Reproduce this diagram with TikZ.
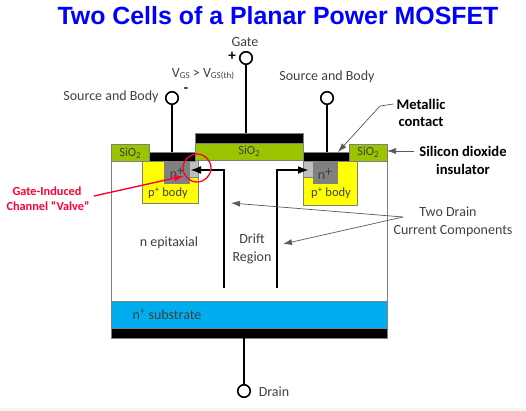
\documentclass[tikz,border=0pt]{standalone}
\usepackage{fontspec}
\setmainfont{Carlito}
\newfontfamily\titlefont{Liberation Sans}
\usetikzlibrary{arrows.meta}
\definecolor{oxgreen}{HTML}{9BC400}
\definecolor{subblue}{HTML}{00AEEF}
\definecolor{bodyyellow}{HTML}{FFFF00}
\definecolor{nplusgray}{HTML}{808080}
\definecolor{chgray}{HTML}{BFBFBF}
\definecolor{valvered}{HTML}{FF0033}
\definecolor{textgray}{HTML}{404040}
\newcommand{\lowtxt}[1]{\raisebox{-0.25ex}{\small #1}}
\tikzset{
    region/.style={draw=gray,line width=0.7pt,inner sep=0pt,outer sep=0pt,anchor=north west},
    terminal/.style={circle,draw,line width=1.6pt,fill=white,minimum size=12.5pt,inner sep=0pt},
    lead/.style={line width=1.6pt},
    current/.style={line width=2pt,-{Latex[length=11pt,width=8pt]}},
    pointer/.style={gray!70!black,line width=0.7pt,-{Latex[length=9pt,width=6pt]}},
    label/.style={text=textgray,font=\fontsize{14}{16}\selectfont,inner sep=0pt},
    inlabel/.style={text=textgray,font=\fontsize{12.5}{14}\selectfont,inner sep=0pt},
    callout/.style={text=black,font=\fontsize{14.6}{16}\selectfont\bfseries,inner sep=0pt},
    valvetxt/.style={text=valvered,font=\bfseries\fontsize{12.3}{14}\selectfont,inner sep=0pt},
}
\begin{document}
\begin{tikzpicture}[x=1pt,y=-1pt]
    \useasboundingbox (0,0) rectangle (526,411);
    \fill[gray!8] (0,408) rectangle (526,411);
    % layers
        \foreach \n/\x/\y/\w/\h/\c in {%
            epi/111/160/276/141/white,
            subs/111/301/276/27/subblue,
            base/111/328/276/10/black,
            bodyl/142/160/56/43/bodyyellow,
            bodyr/303/160/54/45/bodyyellow,
            chl/184/160/14/17/chgray,
            chr/303/160/10/17/chgray,
            npl/164/160/25/23/nplusgray,
            npr/313/160/24/23/nplusgray,
            oxl/111/144/38/17/oxgreen,
            oxm/195/143/108/17/oxgreen,
            oxr/349/144/38/17/oxgreen,
            metl/149/152/46/9/black,
            metr/303/152/46/9/black,
            poly/195/133/108/10/black}{
            \node[region,fill=\c,minimum width=\w pt,minimum height=\h pt] (\n) at (\x,\y) {};
        }
    % terminals
        \node[terminal] (gate) at (246,58) {};
        \node[terminal] (srcl) at (172,98) {};
        \node[terminal] (srcr) at (327,98) {};
        \node[terminal] (drain) at (244,391) {};
        \draw[lead] (gate) -- (gate|-poly.north);
        \draw[lead] (srcl) -- (srcl|-metl.north);
        \draw[lead] (srcr) -- (srcr|-metr.north);
        \draw[lead] (drain) -- (drain|-base.south);
    % drain currents
        \coordinate (footl) at (224,288);
        \coordinate (footr) at (277,288);
        \coordinate (tipl) at (190,170);
        \coordinate (tipr) at (309,170);
        \draw[current] (footl) |- (tipl);
        \draw[current] (footr) |- (tipr);
    % valve
        \coordinate (valve) at (197,168);
        \draw[valvered,line width=1.3pt] (valve) circle (14);
    % labels
        \node[text=blue,font=\titlefont\fontsize{24.9}{28}\selectfont\bfseries,inner sep=0pt] (title) at (278,16) {Two Cells of a Planar Power MOSFET};
        \node[label] (gatetxt) at (245,42) {Gate};
        \node[font=\bfseries\fontsize{15}{15}\selectfont,inner sep=0pt] (plus) at (232,56) {+};
        \node[font=\bfseries\fontsize{14}{14}\selectfont,inner sep=0pt] (minus) at (186,90) {-};
        \node[label] (vgs) at (203,74) {V\lowtxt{GS} > V\lowtxt{GS(th)}};
        \node[label] (srcltxt) at (111,97) {Source and Body};
        \node[label] (srcrtxt) at (327,77) {Source and Body};
        \node[inlabel] (oxltxt) at (130,153) {SiO\lowtxt{2}};
        \node[inlabel] (oxmtxt) at (249,151) {SiO\lowtxt{2}};
        \node[inlabel] (oxrtxt) at (368,152) {SiO\lowtxt{2}};
        \node[label] (npltxt) at (177,173) {n\raisebox{0.5ex}{+}};
        \node[label] (nprtxt) at (325,174) {n\raisebox{0.5ex}{+}};
        \node[inlabel] (pltxt) at (168,193) {p\textsuperscript{+} body};
        \node[inlabel] (prtxt) at (331,193) {p\textsuperscript{+} body};
        \node[label] (epitxt) at (169,243) {n epitaxial};
        \node[label,align=center] (drift) at (252,249) {Drift\\[2pt]Region};
        \node[label] (substxt) at (167,314) {n\textsuperscript{+} substrate};
        \node[label] (draintxt) at (274,392) {Drain};
        \node[callout] (metaltxt) at (421,104) {Metallic};
        \node[callout] (contacttxt) at (421,122) {contact};
        \node[callout] (oxtxt) at (463,151) {Silicon dioxide};
        \node[callout] (instxt) at (463,169) {insulator};
        \node[label] (twotxt) at (448,212) {Two Drain};
        \node[label] (comptxt) at (453,231) {Current Components};
        \node[valvetxt] (gitxt) at (47,191) {Gate-Induced};
        \node[valvetxt] (chtxt) at (48,206) {Channel “Valve”};
    % pointers
        \coordinate (twosrc) at (403,217);
        \coordinate (twotipa) at (231,203);
        \coordinate (twotipb) at (283,244);
        \draw[pointer] (twosrc) -- (twotipa);
        \draw[pointer] (twosrc) -- (twotipb);
        \coordinate (metbend) at (380,106);
        \coordinate (mettip) at (338,152);
        \draw[pointer] (metaltxt.west) ++(-3,0) -- (metbend) -- (mettip);
        \draw[pointer] (oxtxt.west) ++(-5,0) -- (oxr.east|-oxtxt.west);
        \coordinate (valvestart) at (94,196);
        \coordinate (valvetip) at (184,176);
        \draw[valvered,line width=1.4pt,-{Latex[length=10pt,width=7pt]}] (valvestart) -- (valvetip);
\end{tikzpicture}
\end{document}
